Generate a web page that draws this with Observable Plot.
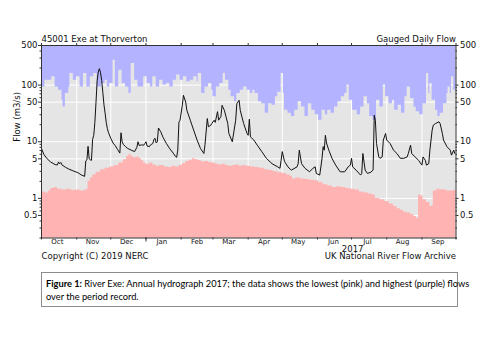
<!DOCTYPE html>
<html>
<head>
<meta charset="utf-8">
<script src="https://cdn.jsdelivr.net/npm/d3@7"></script>
<script src="https://cdn.jsdelivr.net/npm/@observablehq/plot@0.6"></script>
<style>
  body { margin: 0; background: white; width: 500px; height: 353px; position: relative; overflow: hidden; }
  #chart { position: absolute; left: 0; top: 0; }
  #caption {
    position: absolute; left: 41px; top: 272px; width: 407px;
    border: 1px solid #8c8c8c; padding: 5px 4px 0 4px; height: 28px;
    font-family: Lato, "Open Sans", sans-serif; font-size: 9.25px; line-height: 12.5px; color: #000;
    white-space: nowrap;
  }
</style>
</head>
<body>
<div id="chart"></div>
<div id="caption"><b>Figure 1:</b> River Exe: Annual hydrograph 2017; the data shows the lowest (pink) and highest (purple) flows<br>over the period record.</div>
<script>
// Days counted from 1 Oct 2016 (water year 2016/17)
const flow = [[0,7.6],[2,6.0],[5,5.0],[8,4.4],[12,3.95],[14,3.9],[15,4.4],[16,4.1],[17,4.3],[18,3.9],[21,3.55],[24,3.3],[28,3.05],[32,2.85],[35,2.6],[38,2.45],[39,4.6],[40,4.8],[41,8.3],[42,5.0],[43,4.8],[44,4.7],[45,11],[46,13],[47,22],[48,50],[49,120],[50,170],[51,195],[52,165],[53,120],[54,75],[55,45],[56,32],[57,22],[58,17],[59,14.5],[61,11.5],[63,9.5],[65,8.5],[67,7.3],[69,6.3],[70,14.4],[71,10],[72,9.0],[74,8.2],[76,7.6],[79,7.1],[82,6.7],[84,8],[85,10],[86,8.6],[88,8.8],[90,8.7],[91,9.3],[92,10],[93,8.4],[95,8.2],[96,8.8],[98,9.3],[99,11],[100,11.5],[101,9.5],[102,10],[103,17.5],[105,15],[107,12],[110,9.3],[113,7.5],[116,6.3],[118,5.5],[119,5.3],[120,7.1],[121,22],[122,24],[124,44],[125,66],[127,50],[128,36],[131,24],[134,16],[137,10.7],[140,7.6],[143,6.2],[144,9],[146,25.7],[147,18.4],[149,19.5],[150,21],[152,24],[153,22],[155,34],[156,24],[158,28],[159,44],[161,36],[164,21],[165,14],[168,10],[171,24],[172,47],[174,54],[175,36],[178,21],[181,14],[182,13],[183,25],[184,12.2],[187,10.7],[190,8.7],[194,6.7],[198,5.1],[203,4.1],[208,3.6],[210,3.4],[211,4.7],[212,6.7],[214,4.5],[217,3.6],[220,3.16],[225,3.6],[226,4.1],[227,7.1],[229,4.1],[232,3.4],[236,2.95],[239,3.4],[241,3.6],[242,2.76],[245,2.58],[247,5.0],[248,8.2],[249,7.1],[250,13],[251,9.5],[253,7.1],[256,5.0],[259,3.87],[263,2.95],[267,2.95],[270,3.6],[272,3.87],[273,5.1],[274,3.6],[277,3.16],[281,2.58],[282,2.76],[283,6.2],[285,3.16],[287,2.76],[290,2.9],[292,3.16],[293,29.4],[294,24],[295,9.3],[297,5.4],[298,5.1],[300,5.4],[301,10.7],[303,14],[304,10.7],[307,9.3],[310,7.1],[313,6.2],[316,5.1],[319,5.1],[322,5.4],[323,6.2],[325,8.7],[326,6.2],[329,5.4],[332,4.7],[335,3.87],[336,5.4],[338,4.7],[339,3.87],[341,4.1],[342,7.1],[344,16],[345,19.6],[347,21],[350,22.5],[351,21],[353,14],[354,10.7],[357,8.2],[360,7.1],[361,5.8],[363,7.1],[364,6.2]];

const maxFlow = [[0,93],[3,122],[6,122],[9,140],[12,93],[15,81],[18,54],[19,41],[21,71],[24,93],[25,160],[28,122],[31,140],[34,93],[37,160],[40,93],[43,140],[46,160],[49,93],[53,107],[56,122],[58,93],[60,107],[63,275],[65,93],[68,183],[71,107],[74,93],[77,71],[79,240],[82,122],[85,93],[90,140],[93,107],[96,93],[98,140],[101,93],[104,122],[107,100],[110,107],[113,93],[116,122],[119,150],[122,122],[125,140],[128,115],[131,122],[134,140],[137,115],[138,160],[141,71],[144,93],[147,107],[150,81],[151,62],[154,93],[157,107],[160,160],[162,122],[165,81],[167,62],[170,51],[172,71],[175,81],[178,93],[181,81],[184,71],[186,81],[188,71],[191,51],[194,47],[197,32],[200,47],[203,44],[206,62],[208,75],[211,160],[213,71],[214,36],[217,32],[220,28],[223,36],[226,51],[229,41],[232,28],[235,47],[238,36],[241,30],[244,24],[247,36],[250,30],[252,36],[255,32],[258,41],[261,51],[264,62],[267,71],[269,100],[271,54],[274,36],[278,30],[281,41],[284,62],[287,47],[289,28],[292,24],[295,54],[298,41],[301,100],[303,62],[306,47],[309,54],[311,36],[314,44],[317,32],[320,62],[322,93],[325,58],[328,41],[330,34],[333,30],[336,47],[339,160],[341,71],[342,107],[344,54],[347,36],[349,28],[351,32],[354,47],[357,71],[358,93],[360,71],[361,140],[363,81],[365,93]];

const minFlow = [[0,1.3],[3,1.25],[6,1.35],[8,1.5],[11,1.55],[14,1.45],[18,1.4],[22,1.45],[26,1.38],[30,1.4],[34,1.35],[38,1.4],[40,1.45],[41,2.0],[43,2.3],[45,2.6],[48,2.9],[52,3.2],[56,3.4],[60,3.6],[64,3.8],[68,4.2],[72,4.8],[75,5.5],[77,6.0],[79,5.5],[81,5.2],[84,5.4],[86,5.0],[88,4.6],[90,4.2],[92,4.0],[95,4.2],[98,3.9],[101,3.7],[104,3.8],[108,3.6],[112,3.5],[115,3.7],[118,3.6],[121,3.8],[124,4.1],[127,4.5],[130,4.7],[133,5.0],[135,4.8],[138,4.6],[141,4.4],[144,4.5],[147,4.3],[150,4.2],[153,4.0],[156,3.9],[159,4.0],[162,3.8],[165,3.7],[168,3.8],[171,3.9],[174,3.7],[177,3.8],[180,3.7],[184,3.6],[188,3.5],[192,3.4],[196,3.2],[200,3.1],[204,2.95],[208,2.85],[212,2.75],[216,2.6],[219,2.45],[221,2.2],[224,2.3],[228,2.2],[232,2.15],[236,2.1],[240,2.05],[244,1.9],[248,1.75],[252,1.65],[256,1.55],[260,1.6],[264,1.55],[268,1.5],[272,1.45],[276,1.4],[280,1.3],[284,1.25],[288,1.2],[291,1.15],[294,1.0],[298,0.95],[302,0.88],[306,0.8],[310,0.72],[313,0.66],[316,0.62],[319,0.57],[322,0.55],[325,0.52],[328,0.48],[330,0.44],[332,1.15],[334,1.1],[336,0.95],[339,0.85],[342,0.72],[344,0.75],[345,1.35],[348,1.45],[351,1.42],[354,1.4],[357,1.35],[360,1.35],[363,1.38],[365,1.38]];

const yTicks = [0.5, 1, 5, 10, 50, 100, 500];
const yTickLabels = ["0.5", "1", "5", "10", "50", "100", "500"];
const yMinor = [0.2,0.3,0.4,0.6,0.7,0.8,0.9,2,3,4,6,7,8,9,20,30,40,60,70,80,90,200,300,400];
const monthLabels = ["Oct","Nov","Dec","Jan","Feb","Mar","Apr","May","Jun","Jul","Aug","Sep"];

const start = Date.UTC(2016, 9, 1);
const date = d => new Date(start + d * 864e5);
const monthStarts = d3.utcMonths(new Date(Date.UTC(2016, 9, 1)), new Date(Date.UTC(2017, 9, 2)));
const midMonths = monthStarts.slice(0, 12).map(m => new Date(+m + 14 * 864e5));
const yearStart = [new Date(Date.UTC(2017, 0, 1))];

const purple = "#b3b3ff", pink = "#ffb3b3", grey = "#e5e5e5";
const W = 500, H = 265, mL = 41, mR = 44.5, mT = 45, mB = 27.5;
const fw = W - mL - mR, fh = H - mT - mB;

const chart = Plot.plot({
  width: W, height: H,
  marginLeft: mL, marginRight: mR, marginTop: mT, marginBottom: mB,
  style: {fontFamily: "DejaVu Sans", fontSize: "8.5px", color: "#111", background: "white", overflow: "visible"},
  x: {type: "utc", domain: [date(0), date(365)], axis: null},
  y: {type: "log", domain: [0.2, 500], axis: null},
  marks: [
    Plot.frame({fill: grey}),
    Plot.ruleY(yTicks, {stroke: "white", strokeWidth: 1}),
    Plot.ruleX(monthStarts, {stroke: "white", strokeWidth: 1}),
    Plot.areaY(maxFlow, {x: d => date(d[0]), y1: d => d[1], y2: 500, fill: purple, curve: "step-after"}),
    Plot.areaY(minFlow, {x: d => date(d[0]), y1: 0.2, y2: d => d[1], fill: pink, curve: "step-after"}),
    Plot.lineY(flow, {x: d => date(d[0]), y: d => d[1], stroke: "#111", strokeWidth: 1, clip: true}),
    Plot.frame({stroke: "#333", strokeWidth: 1}),
    // y ticks (both sides)
    Plot.ruleY(yTicks, {stroke: "#333", insetLeft: -3, insetRight: fw}),
    Plot.ruleY(yTicks, {stroke: "#333", insetLeft: fw, insetRight: -3}),
    Plot.ruleY(yMinor, {stroke: "#333", insetLeft: -1.5, insetRight: fw}),
    Plot.ruleY(yMinor, {stroke: "#333", insetLeft: fw, insetRight: -1.5}),
    Plot.text(yTicks, {y: d => d, text: (d, i) => yTickLabels[i], frameAnchor: "left", textAnchor: "end", dx: -4, fontSize: 8.5}),
    Plot.text(yTicks, {y: d => d, text: (d, i) => yTickLabels[i], frameAnchor: "right", textAnchor: "start", dx: 4, fontSize: 8.5}),
    // x ticks
    Plot.ruleX(monthStarts, {stroke: "#333", insetTop: fh, insetBottom: -2}),
    Plot.ruleX(yearStart, {stroke: "#333", insetTop: fh, insetBottom: -4}),
    Plot.ruleX(monthStarts, {stroke: "#333", insetTop: -2, insetBottom: fh}),
    Plot.text(midMonths, {x: d => d, text: (d, i) => monthLabels[i], frameAnchor: "bottom", lineAnchor: "top", dy: 1.5, fontSize: 7}),
    // titles and notes
    Plot.text(["45001 Exe at Thorverton"], {frameAnchor: "top-left", textAnchor: "start", lineAnchor: "bottom", dy: -3.5, fontSize: 8.5}),
    Plot.text(["Gauged Daily Flow"], {frameAnchor: "top-right", textAnchor: "end", lineAnchor: "bottom", dy: -3.5, fontSize: 8.5}),
    Plot.text(["Flow (m3/s)"], {frameAnchor: "left", dx: -24, rotate: -90, fontSize: 8.5}),
    Plot.text(["2017"], {x: [new Date(Date.UTC(2017, 6, 2))], frameAnchor: "bottom", lineAnchor: "bottom", dy: 13.5, fontSize: 8.5}),
    Plot.text(["Copyright (C) 2019 NERC"], {frameAnchor: "bottom-left", textAnchor: "start", lineAnchor: "bottom", dy: 20.5, fontSize: 8.5}),
    Plot.text(["UK National River Flow Archive"], {frameAnchor: "bottom-right", textAnchor: "end", lineAnchor: "bottom", dy: 20.5, fontSize: 8.5})
  ]
});
document.getElementById("chart").append(chart);
</script>
</body>
</html>
